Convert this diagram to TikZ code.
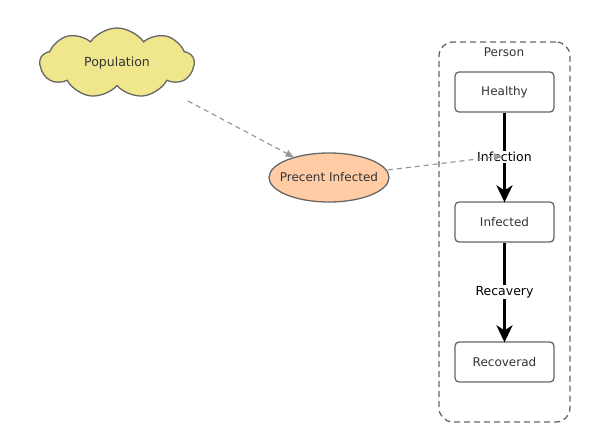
\documentclass[tikz,border=0pt]{standalone}
\usepackage{fontspec}
\setmainfont{DejaVu Sans}
\usetikzlibrary{shapes.symbols,shapes.geometric,arrows.meta}
\definecolor{strk}{HTML}{666666}
\definecolor{cloudfill}{HTML}{F0E68C}
\definecolor{peach}{HTML}{FFCCA6}
\definecolor{txt}{HTML}{333333}
\tikzset{
  state/.style={draw=strk, line width=1.3pt, rounded corners=4pt, minimum width=99pt, minimum height=40pt, fill=white, text=txt, font=\fontsize{12}{14}\selectfont},
  flowarrow/.style={line width=3pt, draw=black, -{Stealth[length=17pt,width=16pt,inset=5pt]}, shorten >=-1pt},
  link/.style={draw=gray!80, line width=1.2pt, dashed, dash pattern=on 5pt off 4pt, -{Triangle[length=8pt,width=7pt,fill=gray!80]}},
  lbl/.style={fill=white, inner sep=1pt, font=\fontsize{12.5}{14}\selectfont, text=black},
}
\begin{document}
\begin{tikzpicture}[x=1pt,y=-1pt]
\useasboundingbox (0,0) rectangle (598,444);
% container
\node[draw=strk, line width=1.3pt, dashed, dash pattern=on 6pt off 4pt, rounded corners=14pt, minimum width=131pt, minimum height=380pt] (person) at (504.5,232) {};
\node[text=txt, font=\fontsize{12}{14}\selectfont] (personlbl) at (504,52) {Person};
% states
\node[state] (healthy) at (504.5,92) {Healthy};
\node[state] (infected) at (504.5,222) {Infected};
\node[state] (recov) at (504.5,362) {Recoverad};
% flows
\draw[flowarrow] (healthy.south) -- (infected.north) node[pos=0.5, lbl] (inflbl) {Infection};
\draw[flowarrow] (infected.south) -- (recov.north) node[pos=0.5, lbl] (reclbl) {Recavery};
% cloud
\node[cloud, cloud puffs=9, cloud puff arc=110, aspect=2.2, draw=strk, line width=1.3pt, fill=cloudfill, minimum width=154pt, minimum height=70pt, text=txt, font=\fontsize{12.5}{14}\selectfont] (pop) at (117,63) {Population};
% ellipse
\node[ellipse, draw=strk, line width=1.3pt, fill=peach, minimum width=120pt, minimum height=49pt, inner xsep=-16pt, inner ysep=0pt, text=txt, font=\fontsize{12}{14}\selectfont] (pct) at (329,177.5) {Precent Infected};
% links
\coordinate (popout) at (188,101);
\coordinate (inftarget) at (502,156);
\coordinate (pcte) at (388,170);
\draw[link] (popout) -- (pct.150);
\draw[link] (pcte) -- (inftarget);
\end{tikzpicture}
\end{document}
